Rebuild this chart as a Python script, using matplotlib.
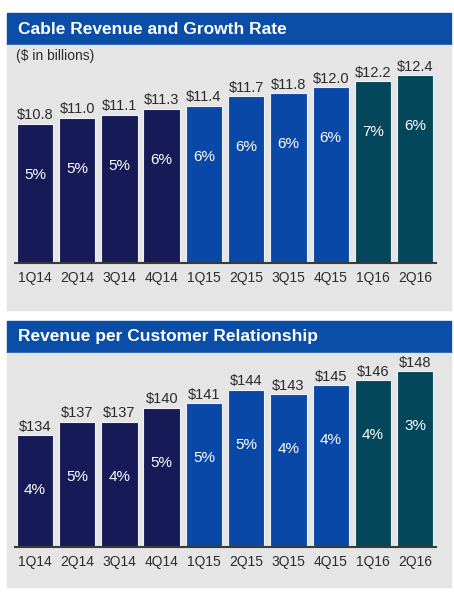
import matplotlib.pyplot as plt
from matplotlib.patches import Rectangle

plt.rcParams['font.family'] = ['Liberation Sans', 'DejaVu Sans']

# data
quarters = ['1Q14', '2Q14', '3Q14', '4Q14', '1Q15', '2Q15', '3Q15', '4Q15', '1Q16', '2Q16']
cable_revenue = [10.8, 11.0, 11.1, 11.3, 11.4, 11.7, 11.8, 12.0, 12.2, 12.4]
cable_growth = [5, 5, 5, 6, 6, 6, 6, 6, 7, 6]
rev_per_customer = [134, 137, 137, 140, 141, 144, 143, 145, 146, 148]
rpc_growth = [4, 5, 4, 5, 5, 5, 4, 4, 4, 3]

# colours by year
navy = '#161b57'
blue = '#0a48a8'
teal = '#05475a'
bar_colors = [navy] * 4 + [blue] * 4 + [teal] * 2
header_blue = '#0b4ea7'
panel_gray = '#e5e5e5'
text_gray = '#2b2b2b'

W, H = 454, 595
fig = plt.figure(figsize=(W / 100, H / 100), dpi=100)
fig.patch.set_facecolor('white')


def px_rect(x0, y0, x1, y1, color):
    # rectangle in pixel coords (y from the top)
    fig.patches.append(Rectangle((x0 / W, 1 - y1 / H), (x1 - x0) / W, (y1 - y0) / H,
                                 transform=fig.transFigure, color=color, zorder=-5))


# panels and header bands
px_rect(7, 13, 451, 45, header_blue)
px_rect(7, 45, 451, 310, panel_gray)
px_rect(7, 321, 451, 353, header_blue)
px_rect(7, 353, 451, 587, panel_gray)

fig.text(18 / W, 1 - 29.5 / H, 'Cable Revenue and Growth Rate', color='white',
         fontsize=12.5, fontweight='bold', va='center', ha='left')
fig.text(18 / W, 1 - 337 / H, 'Revenue per Customer Relationship', color='white',
         fontsize=12.5, fontweight='bold', va='center', ha='left')
fig.text(16 / W, 1 - 56 / H, '($ in billions)', color=text_gray,
         fontsize=10, va='center', ha='left')


def draw_chart(ax, values, growth, ylim, fmt, pct_offset):
    x = range(len(values))
    bars = ax.bar(x, values, width=0.86, color=bar_colors,
                  edgecolor='#eef1f5', linewidth=0.8)
    ax.set_xlim(-0.47, 9.49)
    ax.set_ylim(*ylim)
    ax.set_facecolor('none')
    ax.set_zorder(2)
    for s in ['top', 'right', 'left']:
        ax.spines[s].set_visible(False)
    ax.spines['bottom'].set_color('#3a3a3a')
    ax.spines['bottom'].set_linewidth(1.5)
    ax.set_yticks([])
    ax.set_xticks(list(x))
    ax.set_xticklabels(quarters, fontsize=10, color=text_gray)
    ax.tick_params(axis='x', length=0, pad=6)
    for b, v, g in zip(bars, values, growth):
        cx = b.get_x() + b.get_width() / 2
        ax.annotate(fmt.format(v), (cx, v), xytext=(0, 1.5), textcoords='offset pixels',
                    ha='center', va='bottom', fontsize=10.5, color=text_gray)
        ax.annotate(f'{g}%', (cx, v), xytext=(0, pct_offset), textcoords='offset pixels',
                    ha='center', va='center', fontsize=11, color='white')


# top chart: baseline at y=263, top at y=45
ax1 = fig.add_axes([15 / W, 1 - 263 / H, 421 / W, 218 / H])
draw_chart(ax1, cable_revenue, cable_growth, (6.26, 13.38), '${:.1f}', -51)

# bottom chart: baseline at y=547, top at y=353
ax2 = fig.add_axes([15 / W, 1 - 547 / H, 421 / W, 194 / H])
draw_chart(ax2, rev_per_customer, rpc_growth, (109.6, 152.0), '${:.0f}', -55)

fig.savefig('out.png', dpi=100)
